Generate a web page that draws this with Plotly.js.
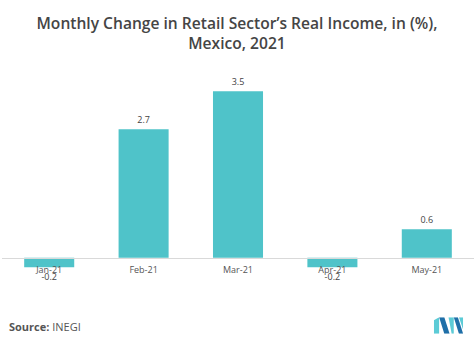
<!DOCTYPE html>
<html><head><meta charset="utf-8">
<script src="https://cdn.plot.ly/plotly-3.0.1.min.js"></script>
<style>html,body{margin:0;padding:0;background:#fff}#chart{width:474px;height:354px}</style>
</head><body><div id="chart"></div>
<script>
const categories = ["Jan-21", "Feb-21", "Mar-21", "Apr-21", "May-21"];
const values = [-0.2, 2.7, 3.5, -0.2, 0.6];
const valueLabels = ["-0.2", "2.7", "3.5", "-0.2", "0.6"];

const logoSvg = '<svg xmlns="http://www.w3.org/2000/svg" viewBox="0 0 28 16">' +
  '<polygon points="0,3 5,0 5,16 0,16" fill="#5ccbd6"/>' +
  '<polygon points="5,0 10,0 15,16 10,16" fill="#1f6fa8"/>' +
  '<polygon points="14,0 19,0 19,16 17,16" fill="#5ccbd6"/>' +
  '<polygon points="19,0 23,0 28,16 24,16" fill="#1f6fa8"/>' +
  '<polygon points="24,0 28,0 28,12" fill="#5ccbd6"/>' +
  '</svg>';
const logoSrc = "data:image/svg+xml;base64," + btoa(logoSvg);

const yMin = -0.3, yMax = 3.8;
const trace = {
  type: "bar",
  x: categories,
  y: values,
  text: valueLabels,
  textposition: "outside",
  textfont: {family: "Open Sans, sans-serif", size: 9, color: "#444"},
  marker: {color: "#4fc3c9"},
  cliponaxis: false,
  hoverinfo: "none"
};
const layout = {
  width: 474, height: 354,
  margin: {l: 2, r: 0, t: 77, b: 82},
  paper_bgcolor: "#fff", plot_bgcolor: "#fff",
  showlegend: false,
  bargap: 0.47,
  title: {
    text: "Monthly Change in Retail Sector’s Real Income, in (%),<br>Mexico, 2021",
    font: {family: "Open Sans, sans-serif", size: 15.6, color: "#454545", weight: 600},
    x: 0.5, xanchor: "center", y: 0.918, yanchor: "top"
  },
  xaxis: {
    type: "category",
    range: [-0.5, 4.5],
    anchor: "free",
    position: (0 - yMin) / (yMax - yMin),
    showline: true, linecolor: "#d9d9d9", linewidth: 1,
    ticks: "", showgrid: false, zeroline: false,
    ticklabelstandoff: 3,
    tickfont: {family: "Open Sans, sans-serif", size: 9, color: "#555"}
  },
  yaxis: {
    range: [yMin, yMax],
    visible: false, showgrid: false, zeroline: false
  },
  images: [{
    source: logoSrc,
    xref: "paper", yref: "paper",
    x: 0.915, y: -0.232, sizex: 0.062, sizey: 0.085,
    xanchor: "left", yanchor: "top", sizing: "stretch"
  }],
  annotations: [{
    text: "<b>Source:</b> INEGI",
    xref: "paper", yref: "paper", x: 0, y: -0.282,
    xanchor: "left", yanchor: "middle", xshift: 5,
    showarrow: false,
    font: {family: "Open Sans, sans-serif", size: 11, color: "#555"}
  }]
};
Plotly.newPlot("chart", [trace], layout, {displayModeBar: false, staticPlot: true});
</script></body></html>
